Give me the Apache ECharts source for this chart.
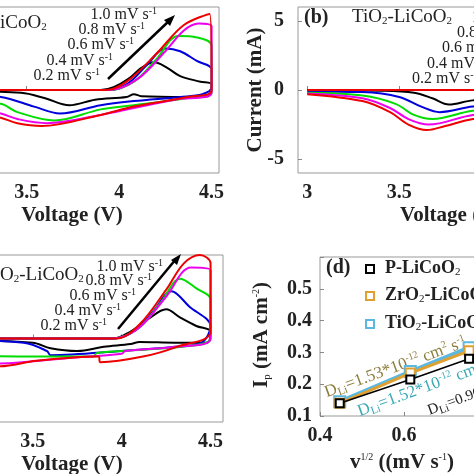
<!DOCTYPE html>
<html><head><meta charset="utf-8">
<script src="https://cdn.jsdelivr.net/npm/echarts@6/dist/echarts.min.js"></script>
<style>html,body{margin:0;background:#fff}#chart{width:474px;height:474px}</style>
</head><body><div id="chart"></div>
<script>
// panel a: P-LiCoO2 CV loops, [voltage, current mA]
var aBlack = [[3.0,0],[3.9,0],[3.97,0.2],[4.05,0.8],[4.12,1.6],[4.19,2.0],[4.26,1.6],[4.33,1.0],[4.44,0.6],[4.5,0.4],[4.48,-0.45],[4.36,-0.5],[4.12,-0.45],[4.08,-0.3],[4.04,-0.5],[3.87,-0.7],[3.73,-1.1],[3.6,-0.6],[3.47,-0.2],[3.0,-0.05]];
var aBlue = [[3.0,0],[3.95,0],[4.05,0.5],[4.15,1.8],[4.25,3.0],[4.33,2.8],[4.42,2.1],[4.5,1.5],[4.5,0.2],[4.45,-0.3],[4.33,-0.5],[4.08,-0.8],[3.9,-1.1],[3.68,-1.7],[3.54,-1.2],[3.36,-0.5],[3.0,-0.2]];
var aGreen = [[3.0,0],[3.95,0],[4.08,0.6],[4.2,2.2],[4.32,3.9],[4.42,3.8],[4.5,3.2],[4.5,-0.2],[4.4,-0.5],[4.26,-0.8],[4.08,-1.1],[3.9,-1.4],[3.65,-2.2],[3.45,-1.6],[3.36,-1.0],[3.0,-0.4]];
var aMag = [[3.0,0],[3.95,0],[4.1,0.8],[4.25,2.8],[4.35,4.3],[4.43,4.8],[4.5,4.6],[4.5,-0.2],[4.3,-0.7],[4.08,-1.3],[3.9,-1.8],[3.61,-2.4],[3.45,-2.1],[3.36,-1.7],[3.0,-0.6]];
var aRed = [[3.0,0],[3.93,0],[4.05,0.7],[4.2,2.6],[4.35,4.7],[4.49,5.5],[4.5,0],[4.37,-0.5],[4.08,-1.2],[3.9,-1.8],[3.58,-2.6],[3.45,-2.4],[3.36,-2.0],[3.0,-0.7]];
// panel b: TiO2-LiCoO2
var bRed = [[3.0,0],[4.5,0],[4.5,-1],[3.9,-2.1],[3.75,-2.6],[3.65,-2.9],[3.55,-2.5],[3.45,-1.6],[3.3,-0.8],[3.0,-0.3]];
var bMag = [[4.5,-1],[3.9,-1.8],[3.66,-2.5],[3.55,-2.1],[3.45,-1.3],[3.3,-0.6],[3.0,-0.25]];
var bGreen = [[4.5,-0.8],[3.9,-1.5],[3.68,-2.1],[3.58,-1.8],[3.48,-1.0],[3.3,-0.4],[3.0,-0.2]];
var bBlue = [[4.5,-0.6],[3.9,-1.2],[3.72,-1.6],[3.62,-1.2],[3.5,-0.5],[3.3,-0.15],[3.0,-0.1]];
var bBlack = [[4.5,-0.4],[3.9,-0.75],[3.77,-1.05],[3.68,-0.6],[3.58,-0.2],[3.4,-0.05],[3.0,0]];
// panel c: ZrO2-LiCoO2
var cBlack = [[3.0,0],[3.95,0],[4.05,0.5],[4.15,1.4],[4.25,2.1],[4.33,1.5],[4.42,0.9],[4.5,0.5],[4.48,-0.3],[4.3,-0.3],[4.1,-0.25],[4.05,-0.4],[3.9,-0.6],[3.75,-0.9],[3.6,-0.7],[3.5,-0.3],[3.0,-0.1]];
var cBlue = [[3.0,0],[3.95,0],[4.08,0.6],[4.18,2.0],[4.28,3.4],[4.38,2.3],[4.5,0.9],[4.45,-0.3],[4.3,-0.6],[4.0,-0.9],[3.6,-1.2],[3.58,-0.9],[3.45,-0.3],[3.0,-0.1]];
var cGreen = [[3.0,0],[3.95,0],[4.1,0.8],[4.22,2.6],[4.33,4.3],[4.42,3.6],[4.5,2.8],[4.5,0],[4.4,-0.5],[4.0,-0.9],[3.86,-1.05],[3.84,-1.3],[3.5,-1.3],[3.0,-1.2]];
var cMag = [[3.0,0],[3.95,0],[4.1,0.8],[4.25,3.0],[4.39,5.1],[4.5,4.9],[4.5,0],[4.3,-0.6],[4.02,-0.9],[4.0,-1.1],[3.7,-1.4],[3.31,-1.8],[3.0,-1.5]];
var cRed = [[3.0,0],[3.97,0],[4.1,1.0],[4.25,3.5],[4.35,5.4],[4.44,6.0],[4.5,5.4],[4.5,0.5],[4.31,-0.6],[4.12,-1.3],[3.88,-1.7],[3.87,-1.3],[3.52,-1.6],[3.31,-2.0],[3.0,-1.8]];
// panel d: peak current vs sqrt(scan rate)
var dX = [0.447, 0.615, 0.755];
var dP = [0.14, 0.215, 0.28];
var dZr = [0.14, 0.235, 0.305];
var dTi = [0.145, 0.24, 0.315];

var COLS = ['#000000', '#0000dd', '#00dd00', '#ee00ee', '#ee0000'];
var FONT = 'Liberation Serif';
var lab = {color: '#222', fontFamily: FONT, fontWeight: 'bold', fontSize: 20};

function vAxis(grid, min, max, show) {
  return {type: 'value', gridIndex: grid, min: min, max: max,
    axisLine: {show: false}, splitLine: {show: false},
    axisTick: {show: show, inside: true, customValues: [3, 3.5, 4, 4.5], length: 4, lineStyle: {color: '#888'}},
    axisLabel: Object.assign({show: show, customValues: [3, 3.5, 4, 4.5], margin: 10}, lab)};
}
function iAxis(grid, show) {
  return {type: 'value', gridIndex: grid, min: -6, max: 6,
    axisLine: {show: false}, splitLine: {show: false},
    axisTick: {show: show, inside: true, customValues: [-5, 0, 5], length: 4, lineStyle: {color: '#888'}},
    axisLabel: Object.assign({show: show, customValues: [-5, 0, 5], margin: 14}, lab)};
}
var series = [];
function cv(list, x, y) {
  list.forEach(function (d, i) {
    series.push({type: 'line', xAxisIndex: x, yAxisIndex: y, data: d, showSymbol: false,
      smooth: 0.35, lineStyle: {color: COLS[i], width: 2}});
  });
}
cv([aBlack, aBlue, aGreen, aMag, aRed], 0, 0);
cv([bBlack, bBlue, bGreen, bMag, bRed], 1, 1);
cv([cBlack, cBlue, cGreen, cMag, cRed], 2, 2);
function dLine(vals, col, w, sym, z) {
  series.push({type: 'line', xAxisIndex: 3, yAxisIndex: 3, z: z,
    data: dX.map(function (x, i) { return [x, vals[i]]; }),
    symbol: 'rect', symbolSize: sym, lineStyle: {color: col, width: w},
    itemStyle: {color: '#fff', borderColor: col, borderWidth: 2}});
}
dLine(dTi, '#5bb8e0', 4, 11, 2);
dLine(dZr, '#e0a030', 3, 9, 3);
dLine(dP, '#000', 1.5, 8, 4);

function t(x, y, text, o) {
  return {type: 'text', x: x, y: y, style: Object.assign({text: text, fontFamily: FONT, fontSize: 16, fill: '#222',
    rich: {s: {fontSize: 10, verticalAlign: 'top', padding: [0, 0, 8, 0], fontFamily: FONT},
           b: {fontSize: 11, verticalAlign: 'bottom', padding: [8, 0, 0, 0], fontFamily: FONT}}}, o || {})};
}
function rot(el, deg) { el.rotation = deg * Math.PI / 180; el.originX = 0; el.originY = 0; return el; }
var rate = ['1.0', '0.8', '0.6', '0.4', '0.2'];
var gr = [];
// panel a labels
var aR = [157, 145, 134, 113, 100], aY = [6, 21, 36, 52, 67];
rate.forEach(function (r, i) { gr.push(t(aR[i], aY[i], r + ' mV s{s|-1}', {align: 'right'})); });
gr.push(t(0, 14, 'iCoO{b|2}', {fontSize: 19}));
gr.push({type: 'line', shape: {x1: 108, y1: 79, x2: 170, y2: 20}, style: {stroke: '#000', lineWidth: 2.5}});
gr.push({type: 'polygon', shape: {points: [[175, 15], [164, 20], [170, 26]]}, style: {fill: '#000'}});
gr.push(t(72, 205, 'Voltage (V)', {align: 'center', fontSize: 21, fontWeight: 'bold'}));
// panel b labels
gr.push(t(304, 8, '(b)', {fontSize: 20, fontWeight: 'bold'}));
gr.push(t(352, 8, 'TiO{b|2}-LiCoO{b|2}', {fontSize: 19}));
var bL = [472, 457, 442, 427, 412];
rate.forEach(function (r, i) { gr.push(t(bL[i], aY[i] + 3, r + ' mV s{s|-1}')); });
gr.push(rot(t(256, 90, 'Current (mA)', {align: 'center', verticalAlign: 'middle', fontSize: 21, fontWeight: 'bold'}), 90));
gr.push(t(400, 205, 'Voltage (V)', {fontSize: 21, fontWeight: 'bold'}));
// panel c labels
var cR = [163, 152, 136, 121, 107], cY = [258, 272, 287, 302, 317];
rate.forEach(function (r, i) { gr.push(t(cR[i], cY[i], r + ' mV s{s|-1}', {align: 'right'})); });
gr.push(t(0, 266, 'O{b|2}-LiCoO{b|2}', {fontSize: 19}));
gr.push({type: 'line', shape: {x1: 118, y1: 329, x2: 176, y2: 259}, style: {stroke: '#000', lineWidth: 2.5}});
gr.push({type: 'polygon', shape: {points: [[181, 254], [171, 260], [177, 265]]}, style: {fill: '#000'}});
gr.push(t(72, 454, 'Voltage (V)', {align: 'center', fontSize: 21, fontWeight: 'bold'}));
// panel d labels
gr.push(t(326, 258, '(d)', {fontSize: 20, fontWeight: 'bold'}));
var lg = [['P-LiCoO{b|2}', '#000', 269], ['ZrO{b|2}-LiCoO{b|2}', '#e0a030', 296], ['TiO{b|2}-LiCoO{b|2}', '#5bb8e0', 324]];
lg.forEach(function (l) {
  gr.push({type: 'rect', shape: {x: 366, y: l[2] - 4, width: 8, height: 8}, style: {fill: '#fff', stroke: l[1], lineWidth: 2}});
  gr.push(t(385, l[2] - 10, l[0], {fontSize: 18, fontWeight: 'bold'}));
});
gr.push(rot(t(322, 384, 'D{b|Li}=1.53*10{s|-12} cm{s|2} s{s|-1}', {fill: '#8b7d3a', fontSize: 17}), 20));
gr.push(rot(t(355, 403, 'D{b|Li}=1.52*10{s|-12} cm{s|2} s{s|-1}', {fill: '#3aa9b5', fontSize: 17}), 20));
gr.push(rot(t(425, 402, 'D{b|Li}=0.96*10{s|-12} cm{s|2} s{s|-1}', {fill: '#222', fontSize: 15}), 20));
gr.push(t(350, 452, 'v{s|1/2} ((mV s{s|-1})', {fontSize: 21, fontWeight: 'bold'}));
gr.push(rot(t(262, 335, 'I{b|p} (mA cm{s|-2})', {align: 'center', verticalAlign: 'middle', fontSize: 21, fontWeight: 'bold'}), 90));

var gridStyle = {show: true, borderColor: '#999', borderWidth: 1, backgroundColor: 'transparent', outerBoundsMode: 'none', containLabel: false};
var option = {
  animation: false,
  grid: [
    Object.assign({left: -75, top: 7, width: 294, height: 166}, gridStyle),
    Object.assign({left: 298, top: 7, width: 300, height: 166}, gridStyle),
    Object.assign({left: -65, top: 255, width: 288, height: 167}, gridStyle),
    Object.assign({left: 320, top: 257, width: 252, height: 159}, gridStyle)
  ],
  xAxis: [vAxis(0, 2.95, 4.54, true), vAxis(1, 2.95, 4.58, true), vAxis(2, 2.95, 4.57, true),
    {type: 'value', gridIndex: 3, min: 0.4, max: 1.0, interval: 0.2, axisLine: {show: false}, splitLine: {show: false},
     axisTick: {inside: true, length: 4, lineStyle: {color: '#888'}},
     axisLabel: Object.assign({margin: 10, formatter: function (v) { return v.toFixed(1); }}, lab)}],
  yAxis: [iAxis(0, false), iAxis(1, true), iAxis(2, false),
    {type: 'value', gridIndex: 3, min: 0.1, max: 0.6, interval: 0.1, axisLine: {show: false}, splitLine: {show: false},
     axisTick: {inside: true, length: 4, lineStyle: {color: '#888'}},
     axisLabel: Object.assign({margin: 8, formatter: function (v) { return v < 0.55 ? v.toFixed(1) : ''; }}, lab)}],
  series: series,
  graphic: gr
};
echarts.init(document.getElementById('chart')).setOption(option);
</script></body></html>
